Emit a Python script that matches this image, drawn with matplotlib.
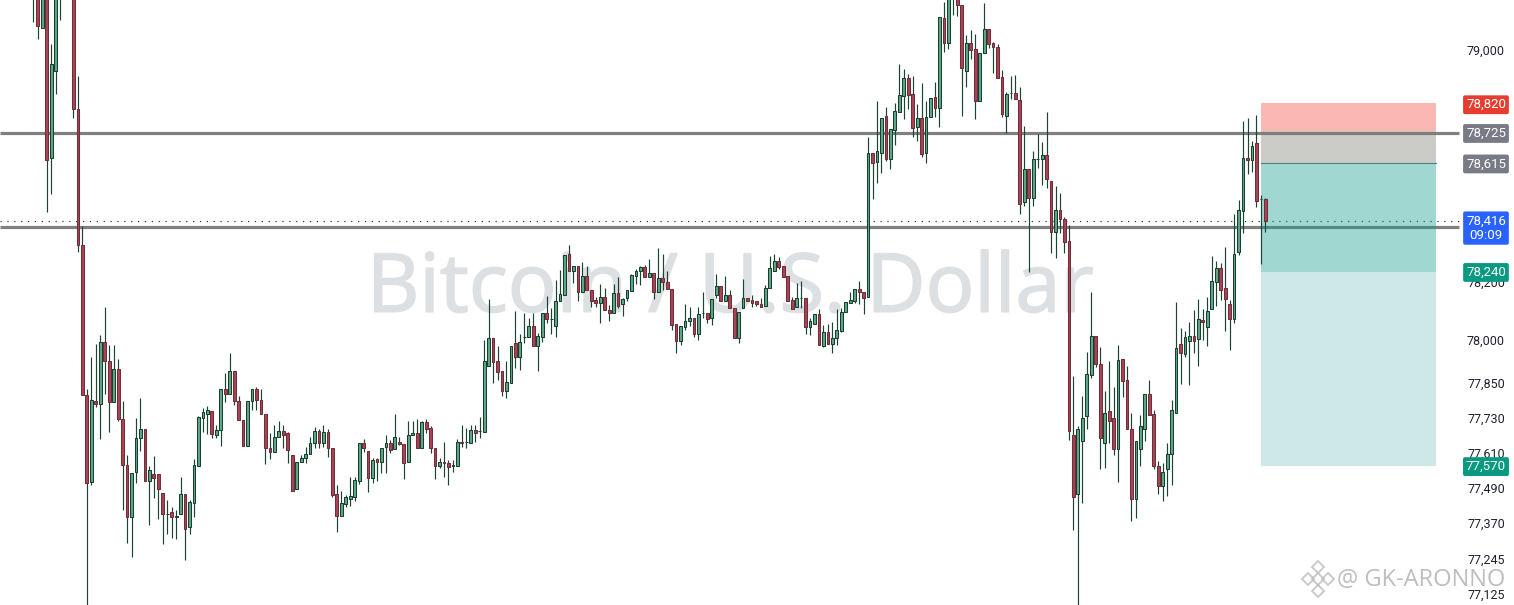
import matplotlib
matplotlib.use("Agg")
import matplotlib.pyplot as plt
import matplotlib.patheffects as pe
from matplotlib.patches import Rectangle

opens = [
    79260, 79230, 79080, 79260, 78633, 78930, 79200, 79250, 79270, 79250,
    78800, 78330, 77813, 77516, 77795, 77782, 77996, 77932, 77789, 77903,
    77733, 77573, 77394, 77551, 77665, 77697, 77520, 77544, 77544, 77476,
    77404, 77410, 77394, 77403, 77474, 77361, 77444, 77569, 77737, 77749,
    77758, 77677, 77693, 77835, 77817, 77899, 77793, 77730, 77640, 77795,
    77835, 77799, 77750, 77631, 77617, 77670, 77689, 77684, 77607, 77491,
    77583, 77596, 77610, 77648, 77692, 77650, 77687, 77631, 77474, 77399,
    77439, 77457, 77464, 77520, 77648, 77622, 77530, 77593, 77583, 77637,
    77648, 77627, 77652, 77646, 77583, 77676, 77683, 77632, 77721, 77702,
    77631, 77570, 77585, 77579, 77571, 77571, 77652, 77652, 77650, 77694,
    77691, 77686, 77916, 78010, 77932, 77898, 77830, 77857, 77993, 77945,
    78016, 78016, 78053, 77985, 78014, 78096, 78077, 78054, 78139, 78161,
    78301, 78243, 78259, 78171, 78225, 78177, 78142, 78131, 78151, 78108,
    78096, 78165, 78129, 78150, 78174, 78226, 78242, 78255, 78223, 78234,
    78168, 78217, 78203, 78179, 78058, 78001, 78050, 78071, 78079, 78025,
    78096, 78096, 78079, 78160, 78191, 78137, 78160, 78114, 78012, 78114,
    78148, 78142, 78137, 78128, 78123, 78183, 78243, 78277, 78259, 78225,
    78142, 78119, 78148, 78148, 78048, 78058, 78093, 77985, 78032, 77992,
    78010, 78037, 78100, 78131, 78140, 78179, 78168, 78153, 78650, 78619,
    78647, 78777, 78629, 78728, 78791, 78846, 78906, 78851, 78739, 78768,
    78650, 78774, 78840, 78805, 79113, 79029, 79180, 79210, 79160, 78932,
    79027, 79006, 78829, 78994, 79075, 79029, 79013, 78909, 78777, 78854,
    78854, 78831, 78479, 78592, 78495, 78627, 78627, 78641, 78552, 78375,
    78452, 78420, 78345, 77676, 77475, 77657, 77743, 77883, 78018, 77920,
    77651, 77759, 77734, 77627, 77938, 77866, 77699, 77455, 77630, 77699,
    77818, 77749, 77571, 77502, 77561, 77610, 77753, 77989, 77955, 78001,
    78018, 78006, 78073, 78050, 78111, 78205, 78254, 78182, 78130, 78078,
    78308, 78450, 78630, 78626, 78682, 78490, 78489,
]
closes = [
    79290, 79087, 79230, 78624, 78954, 79220, 79240, 79270, 79250, 78800,
    78333, 77813, 77513, 77799, 77782, 77996, 77932, 77789, 77903, 77733,
    77573, 77394, 77547, 77665, 77697, 77520, 77556, 77529, 77490, 77404,
    77404, 77394, 77396, 77474, 77354, 77447, 77573, 77740, 77756, 77762,
    77680, 77693, 77835, 77817, 77899, 77793, 77730, 77640, 77795, 77835,
    77799, 77750, 77631, 77617, 77670, 77689, 77677, 77624, 77484, 77584,
    77596, 77610, 77648, 77692, 77650, 77687, 77631, 77470, 77399, 77441,
    77462, 77467, 77522, 77648, 77631, 77530, 77591, 77583, 77631, 77648,
    77625, 77669, 77645, 77582, 77676, 77683, 77633, 77721, 77698, 77631,
    77570, 77583, 77579, 77568, 77573, 77652, 77648, 77652, 77694, 77685,
    77691, 77932, 78010, 77930, 77895, 77830, 77858, 77984, 77945, 77996,
    78016, 78053, 77985, 78018, 78096, 78076, 78077, 78139, 78163, 78297,
    78243, 78259, 78171, 78225, 78177, 78140, 78131, 78151, 78106, 78096,
    78165, 78123, 78145, 78177, 78228, 78242, 78255, 78223, 78234, 78168,
    78217, 78205, 78179, 78056, 78001, 78053, 78071, 78079, 78025, 78093,
    78096, 78077, 78146, 78191, 78137, 78160, 78114, 78012, 78100, 78148,
    78140, 78133, 78127, 78119, 78183, 78251, 78277, 78255, 78223, 78140,
    78112, 78148, 78148, 78048, 78070, 78093, 77987, 78032, 77992, 78011,
    78039, 78102, 78135, 78142, 78179, 78169, 78150, 78647, 78613, 78657,
    78768, 78628, 78730, 78793, 78849, 78906, 78849, 78734, 78768, 78644,
    78774, 78839, 78805, 79116, 79029, 79200, 79210, 79160, 78940, 79027,
    79004, 78829, 78992, 79075, 79024, 79013, 78908, 78783, 78851, 78854,
    78834, 78472, 78592, 78495, 78627, 78627, 78641, 78558, 78375, 78454,
    78420, 78343, 77691, 77464, 77699, 77734, 77887, 78018, 77920, 77667,
    77754, 77726, 77630, 77937, 77864, 77699, 77455, 77657, 77707, 77818,
    77745, 77571, 77502, 77550, 77610, 77762, 77975, 77958, 78013, 78018,
    78001, 78076, 78065, 78104, 78207, 78251, 78176, 78145, 78077, 78302,
    78452, 78632, 78626, 78672, 78484, 78490, 78415,
]
highs = [
    79320, 79260, 79260, 79290, 79026, 79260, 79280, 79300, 79300, 79270,
    78915, 78398, 77835, 77946, 77992, 78022, 78119, 77986, 77986, 77939,
    77793, 77607, 77547, 77737, 77803, 77697, 77569, 77603, 77544, 77476,
    77454, 77430, 77418, 77533, 77474, 77453, 77593, 77743, 77769, 77777,
    77758, 77710, 77835, 77890, 77959, 77899, 77810, 77730, 77795, 77835,
    77842, 77835, 77750, 77684, 77710, 77726, 77713, 77688, 77607, 77584,
    77608, 77634, 77671, 77703, 77697, 77711, 77697, 77631, 77505, 77485,
    77470, 77533, 77531, 77648, 77662, 77622, 77597, 77597, 77631, 77677,
    77660, 77749, 77669, 77646, 77725, 77725, 77731, 77725, 77731, 77708,
    77631, 77597, 77652, 77591, 77591, 77662, 77711, 77700, 77711, 77711,
    77740, 78004, 78146, 78010, 77984, 77898, 77933, 77984, 78105, 78025,
    78096, 78081, 78096, 78028, 78096, 78156, 78114, 78211, 78246, 78297,
    78332, 78259, 78259, 78272, 78259, 78177, 78154, 78197, 78183, 78125,
    78197, 78220, 78148, 78177, 78232, 78248, 78260, 78262, 78284, 78234,
    78320, 78301, 78243, 78179, 78058, 78053, 78127, 78119, 78079, 78119,
    78171, 78096, 78146, 78232, 78191, 78225, 78177, 78114, 78100, 78214,
    78148, 78160, 78137, 78148, 78194, 78294, 78300, 78292, 78259, 78225,
    78154, 78202, 78208, 78148, 78079, 78093, 78110, 78056, 78058, 78068,
    78110, 78113, 78135, 78169, 78179, 78209, 78168, 78705, 78650, 78828,
    78768, 78806, 78730, 78820, 78954, 78938, 78921, 78914, 78816, 78889,
    78828, 78839, 78894, 79116, 79170, 79220, 79240, 79230, 79160, 79055,
    79073, 79058, 78992, 79167, 79075, 79032, 79023, 78935, 78860, 78915,
    78917, 78875, 78742, 78592, 78657, 78714, 78685, 78789, 78552, 78536,
    78512, 78429, 78400, 77880, 77707, 77811, 77964, 78170, 78018, 77981,
    77829, 77932, 77843, 77986, 77938, 77914, 77751, 77657, 77745, 77818,
    77866, 77762, 77587, 77579, 77648, 77797, 78136, 78044, 78036, 78067,
    78107, 78145, 78111, 78151, 78293, 78276, 78271, 78325, 78142, 78437,
    78486, 78760, 78768, 78691, 78779, 78504, 78492,
]
lows = [
    79100, 79043, 79080, 78444, 78508, 78853, 79107, 79220, 79230, 78770,
    78309, 77813, 77060, 77506, 77772, 77662, 77819, 77686, 77789, 77724,
    77420, 77303, 77257, 77511, 77623, 77520, 77367, 77460, 77387, 77301,
    77334, 77321, 77317, 77403, 77247, 77334, 77394, 77569, 77686, 77680,
    77666, 77666, 77640, 77789, 77817, 77779, 77730, 77640, 77640, 77764,
    77764, 77750, 77577, 77593, 77617, 77670, 77633, 77580, 77484, 77491,
    77583, 77582, 77610, 77631, 77631, 77637, 77600, 77462, 77344, 77399,
    77428, 77432, 77449, 77508, 77619, 77482, 77510, 77518, 77545, 77545,
    77614, 77627, 77643, 77525, 77583, 77676, 77633, 77632, 77683, 77614,
    77525, 77562, 77533, 77505, 77551, 77571, 77637, 77633, 77650, 77654,
    77668, 77686, 77916, 77855, 77866, 77811, 77806, 77857, 77909, 77901,
    77995, 78016, 77985, 77899, 77996, 78064, 78025, 78016, 78139, 78161,
    78243, 78200, 78140, 78171, 78177, 78119, 78118, 78062, 78106, 78071,
    78096, 78114, 78088, 78140, 78174, 78197, 78194, 78223, 78223, 78145,
    78168, 78177, 78179, 78039, 77961, 77987, 78039, 78053, 78014, 78004,
    78079, 78062, 78056, 78150, 78137, 78137, 78114, 78012, 77995, 78114,
    78140, 78119, 78120, 78119, 78123, 78183, 78243, 78248, 78223, 78140,
    78112, 78119, 78114, 78024, 78022, 78058, 77987, 77981, 77992, 77958,
    77987, 78033, 78100, 78131, 78131, 78128, 78094, 78153, 78490, 78546,
    78581, 78622, 78593, 78676, 78791, 78766, 78799, 78705, 78691, 78636,
    78615, 78774, 78774, 78739, 78998, 79006, 79124, 79122, 78777, 78875,
    78971, 78766, 78829, 78994, 79009, 78926, 78908, 78772, 78716, 78834,
    78834, 78437, 78466, 78240, 78466, 78598, 78538, 78527, 78303, 78286,
    78373, 78305, 77659, 77349, 77060, 77441, 77697, 77875, 77912, 77561,
    77564, 77650, 77607, 77515, 77808, 77699, 77380, 77391, 77569, 77657,
    77745, 77561, 77475, 77449, 77467, 77504, 77753, 77854, 77946, 77849,
    77960, 77914, 78004, 77983, 78111, 78121, 78142, 78035, 77969, 78063,
    78297, 78374, 78576, 78584, 78463, 78266, 78375,
]

tick_prices = [79000, 78200, 78000, 77850, 77730, 77610, 77490, 77370, 77245, 77125]
level_prices = [78718, 78393]
last_price = 78416

# position tool bands (bottom, top, colour), drawn over the level lines
bands = [
    (78725, 78820, "#F54D44"),
    (78615, 78725, "#7D7F75"),
    (78240, 78615, "#169D8E"),
    (77570, 78240, "#82C8C5"),
]
box_start, box_end = 275, 314.2

# (price the label sits at, text, colour)
price_tags = [
    (78815, "78,820", "#E53E30"),
    (78716, "78,725", "#787B86"),
    (78611, "78,615", "#787B86"),
    (78237, "78,240", "#089981"),
    (77568, "77,570", "#089981"),
]

GREEN_FILL = "#5FA888"
GREEN_EDGE = "#17412E"
RED_FILL = "#A84455"
RED_EDGE = "#6E2F3A"
WICK = "#1A4331"

fig = plt.figure(figsize=(15.14, 6.05), dpi=100)
ax = fig.add_axes([0, 0, 1, 1])
ax.set_xlim(-7.46, 331.7)
ax.set_ylim(77091, 79176)
ax.axis("off")

trans_px = ax.get_yaxis_transform()

# watermark
ax.text(0.4825, 78175, "Bitcoin / U.S. Dollar", transform=trans_px, ha="center", va="center",
        fontsize=58.5, color="#DDE0E2", family="Open Sans", zorder=0,
        path_effects=[pe.withStroke(linewidth=1.2, foreground="#DDE0E2")])

# level lines stop at the price scale
for p in level_prices:
    ax.plot([0, 0.964], [p, p], transform=trans_px, color="#808080", lw=2.3, zorder=1,
            solid_capstyle="butt")
ax.plot([0, 0.964], [last_price, last_price], transform=trans_px, color="#2F3B39", lw=0.9,
        ls=(0, (1, 4.5)), zorder=1)

for bottom, top, colour in bands:
    ax.add_patch(Rectangle((box_start, bottom), box_end - box_start, top - bottom,
                           facecolor=colour, edgecolor="none", alpha=0.4, zorder=2))
ax.plot([box_start, box_end], [78615, 78615], color="#4F7F78", lw=0.8, zorder=2)

# candles
xs = list(range(len(opens)))
ax.vlines(xs, lows, highs, color=WICK, lw=0.85, zorder=3)
bottoms = [min(o, c) for o, c in zip(opens, closes)]
heights = [abs(c - o) for o, c in zip(opens, closes)]
fills = [GREEN_FILL if c >= o else RED_FILL for o, c in zip(opens, closes)]
edges = [GREEN_EDGE if c >= o else RED_EDGE for o, c in zip(opens, closes)]
ax.bar(xs, heights, bottom=bottoms, width=0.62, color=fills, edgecolor=edges, lw=0.75, zorder=4)

# price scale
for p in tick_prices:
    ax.text(0.9815, p, f"{p:,}", transform=trans_px, ha="center", va="center", fontsize=9,
            color="#1E222D", family="Roboto", zorder=5)

for p, label, colour in price_tags:
    ax.text(0.9815, p, label, transform=trans_px, ha="center", va="center", fontsize=9.5,
            color="white", family="Roboto",
            bbox=dict(boxstyle="round,pad=0.22,rounding_size=0.15", facecolor=colour, edgecolor="none"),
            zorder=6)
ax.text(0.9815, 78390, "78,416\n09:09", transform=trans_px, ha="center", va="center", fontsize=9.5,
        color="white", family="Roboto", linespacing=1.15,
        bbox=dict(boxstyle="round,pad=0.22,rounding_size=0.15", facecolor="#2962FF", edgecolor="none"), zorder=6)

# author mark, bottom right
ax.text(0.9945, 77178, "@ GK-ARONNO", transform=trans_px, ha="right", va="center", fontsize=17,
        color="#A8A8A8", alpha=0.75, family="Open Sans", zorder=7)
logo_x = [0.8705, 0.8640, 0.8770, 0.8705, 0.8705]
logo_y = [77222, 77180, 77180, 77138, 77180]
ax.plot(logo_x, logo_y, transform=trans_px, ls="none", marker="D", ms=6, mfc="none",
        mec="#BDBDBD", mew=1.4, alpha=0.8, zorder=7)

fig.savefig("out.png", dpi=100)
